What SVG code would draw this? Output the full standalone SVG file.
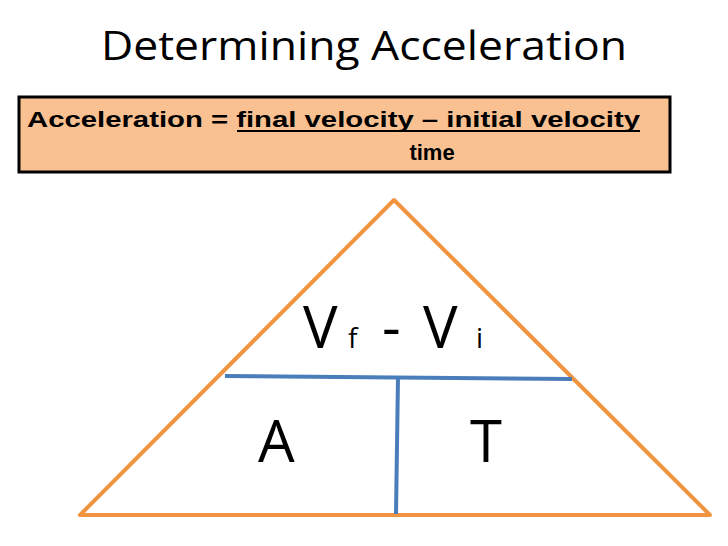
<svg xmlns="http://www.w3.org/2000/svg" width="728" height="546" viewBox="0 0 728 546">
<style>
.t{font-family:"Open Sans","DejaVu Sans",sans-serif;fill:#000}
.b{font-family:"Liberation Sans",Arial,sans-serif;font-weight:bold;font-size:22px;fill:#000}
.big{font-family:"Open Sans","DejaVu Sans",sans-serif;font-size:58px;fill:#000}
.sm{font-family:"Open Sans","DejaVu Sans",sans-serif;font-size:28px;fill:#000}
</style>
<rect width="728" height="546" fill="#fff"/>
<text class="t" x="364" y="60" font-size="40" text-anchor="middle" textLength="526" lengthAdjust="spacingAndGlyphs">Determining Acceleration</text>
<g id="formula">
<rect x="19" y="97" width="651" height="75" fill="#f9c091" stroke="#000" stroke-width="3"/>
<text class="b" x="27" y="127" textLength="613" lengthAdjust="spacingAndGlyphs">Acceleration = final velocity – initial velocity</text>
<line x1="237" y1="131" x2="640" y2="131" stroke="#000" stroke-width="2"/>
<text class="b" x="432" y="160" text-anchor="middle">time</text>
</g>
<g id="triangle">
<polygon points="394,200 80,515 710,515" fill="none" stroke="#f0943f" stroke-width="4" stroke-linejoin="round"/>
</g>
<g id="connectors" stroke="#4a7ebb" stroke-width="4">
<line x1="225" y1="376" x2="572" y2="379"/>
<line x1="398" y1="377" x2="396" y2="514"/>
</g>
<g id="top">
<text class="big" x="303" y="348">V</text>
<text class="sm" x="348" y="348">f</text>
<text class="big" x="382" y="348">-</text>
<text class="big" x="423" y="348">V</text>
<text class="sm" x="476" y="348">i</text>
</g>
<g id="a"><text class="big" x="258" y="462">A</text></g>
<g id="tt"><text class="big" x="470" y="462">T</text></g>
</svg>
